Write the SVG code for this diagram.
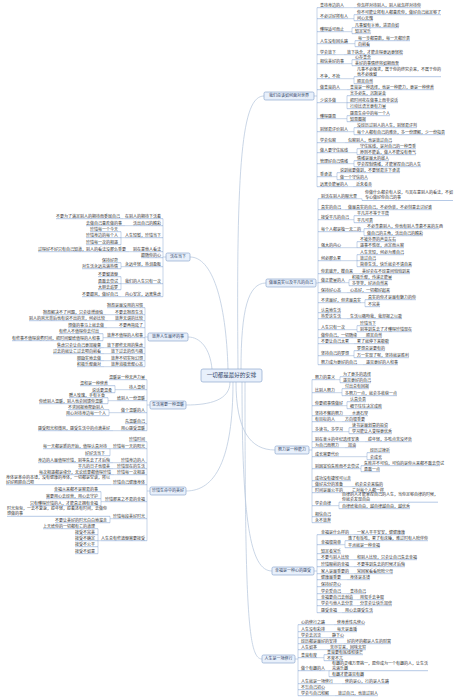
<svg xmlns="http://www.w3.org/2000/svg" width="474" height="697" viewBox="0 0 474 697">
<style>
.t{font-family:"Noto Sans CJK SC","Noto Sans",sans-serif;font-size:4px;fill:#333}
.e{text-anchor:end}
.u{stroke:#6b93cc;stroke-width:0.5;fill:none}
.c{stroke:#8fa9d0;stroke-width:0.5;fill:none}
.cc{stroke:#bccbe0;stroke-width:0.8;fill:none}
.m rect{fill:#e8f0fb;stroke:#7d9cc8;stroke-width:0.6}
.mt{font-family:"Noto Sans CJK SC","Noto Sans",sans-serif;font-size:4px;fill:#2f4366;text-anchor:middle}
.ct{font-family:"Noto Sans CJK SC","Noto Sans",sans-serif;font-size:5.5px;fill:#2f4366;text-anchor:middle}
</style>
<rect width="474" height="697" fill="#fff"/>
<g id="connectors">
<path class="cc" d="M238 369C236 160 242 96 264 96M241 369C241 310 248 283 266 283M236 382C236 430 250 450 275 450M242 382C242 520 250 571 272 571M245 382C245 610 248 659 262 659M228 369C226 300 212 257 190 257M212 369C210 348 200 337 188 337M230 382C230 400 210 405 186 405M233 382C233 460 215 491 186 491"/>
<path class="c" d="M314 96H317M317 7.7V186.7M344 7.7H354M348 18.7H354M354 14.7V20.7M344 31.7H352M352 27.7V33.7M348 43.7H355M355 40.7V46.7M336 54.7H344M344 63.7H352M352 59.7V65.7M340 78.7H354M354 76.7V83.7M340 89.7H347M336 102.7H347M347 95.7V108.7M336 118.7H347M347 115.7V121.7M348 131.7H354M354 127.7V134.7M336 142.7H345M348 152.7H357M357 148.7V154.7M348 163.7H354M354 160.7V166.7M332 176.7H337M337 172.7V179.7M348 186.7H353"/>
<path class="c" d="M316 283H318M318 198.7V364.7M357 198.7H362V200.5M341 209.7H345M349 219.7H354M354 215.7V222.7M361 231.7H364M364 228.7V235.7M341 247.7H357M357 241.7V247.7M341 260.7H357M357 254.7V266.7M353 273.7H359M345 282.7H349M349 279.7V285.7M341 292.7H347M361 302.7H365M365 299.7V306.7M341 318.7H347M345 329.7H357M357 325.7V331.7M357 337.7H363M349 343.7H354M349 355.7H354M354 350.7V357.7M357 364.7H363"/>
<path class="c" d="M309 450H312M312 379.7V522.7M335 379.7H340M340 376.7V382.7M335 392.7H342M342 388.7V395.7M343 405.7H347M347 401.7V408.7M343 415.7H349M335 421.7H342M343 431.7H349M349 427.7V433.7M359 441.7H365M339 447.7H345M339 456.7H367M367 452.7V459.7M359 468.7H361M361 465.7V471.7M343 486.7H352M343 492.7H349M331 505.7H339M339 502.2V508.7"/>
<path class="c" d="M314 571H317M317 534.7V612.7M349 534.7H354M341 544.7H345M345 540.7V547.7M349 559.7H354M349 566.7H354M349 573.7H354M341 579.7H347M341 593.7H347M353 599.7H357M353 605.7H357M337 612.7H342"/>
<path class="c" d="M295 659H298M298 624.7V695.7M325 624.7H334M325 631.7H334M321 637.7H329M337 643.7H344M317 649.7H327M317 657.7H324M324 654.7V660.7M325 670.7H329M329 670.7V676.7M333 683.7H342M329 695.7H335"/>
<path class="c" d="M166 257H163M163 218.7V296.7M125 218.7H123M133 225.7H125M125 237.7H121M121 231.7V244.7M133 251.7H129M125 266.7H121M121 262.7V268.7M125 283.7H121M121 276.7V289.7M125 296.7H121"/>
<path class="c" d="M148 337H145M145 307.7V366.7M115 314.7H106M115 320.7H108M119 327.7H107M107 337.7H103M103 333.7V340.7M107 347.7H104M111 353.7H104M111 360.7H104M111 366.7H104"/>
<path class="c" d="M150 405H147M147 379.7V430.7M129 389.7H115M115 385.7V392.7M117 400.7H108M108 397.7V403.7M121 412.7H109M109 409.7V415.7M121 430.7H113"/>
<path class="c" d="M150 491H147M147 441.7V540.7M113 448.7H110M110 448.7V455.7M121 462.7H113M117 468.7H113M117 474.7H114M113 484.7H111M105 501.7H101M101 491.7V505.7M113 518.7H110M110 516.3V522.7M101 540.7H98M98 528.7V553.7"/>
</g>
<g id="center" class="m"><rect x="201" y="369" width="61" height="13" rx="2"/><text class="ct" x="231.5" y="377.4">一切都是最好的安排</text></g>
<g id="n-r1" class="m"><rect x="264" y="92" width="50" height="8" rx="1.5"/><text class="mt" x="289" y="97.4">我们应该如何面对世界</text></g>
<g id="n-r2" class="m"><rect x="266" y="279" width="50" height="8" rx="1.5"/><text class="mt" x="291" y="284.4">做最真实以及平凡的自己</text></g>
<g id="n-r3" class="m"><rect x="275" y="446" width="34" height="8" rx="1.5"/><text class="mt" x="292" y="451.4">努力是一种能力</text></g>
<g id="n-r4" class="m"><rect x="272" y="567" width="42" height="8" rx="1.5"/><text class="mt" x="293" y="572.4">幸福是一种心的感受</text></g>
<g id="n-r5" class="m"><rect x="262" y="655" width="33" height="8" rx="1.5"/><text class="mt" x="278.5" y="660.4">人生是一场修行</text></g>
<g id="n-l1" class="m"><rect x="166" y="253" width="24" height="8" rx="1.5"/><text class="mt" x="178" y="258.4">活在当下</text></g>
<g id="n-l2" class="m"><rect x="148" y="333" width="40" height="8" rx="1.5"/><text class="mt" x="168" y="338.4">放弃人生最坏的事</text></g>
<g id="n-l3" class="m"><rect x="150" y="401" width="36" height="8" rx="1.5"/><text class="mt" x="168" y="406.4">生活需要一种温暖</text></g>
<g id="n-l4" class="m"><rect x="150" y="487" width="36" height="8" rx="1.5"/><text class="mt" x="168" y="492.4">珍惜生命中的美好</text></g>

<g id="r1-1"><text class="t" x="320" y="6.5">善待身边的人</text><path class="u" d="M317 7.7H344"/></g>
<g id="r1-1a"><text class="t" x="357" y="6.5">你怎样对待别人，别人就怎样对待你</text><path class="u" d="M354 7.7H421"/></g>
<g id="r1-2"><text class="t" x="320" y="17.5">不必讨好所有人</text><path class="u" d="M317 18.7H348"/></g>
<g id="r1-2a"><text class="t" x="357" y="13.5">你不可能让所有人都喜欢你，做好自己就足够了</text><path class="u" d="M354 14.7H441"/></g>
<g id="r1-2b"><text class="t" x="357" y="19.5">问心无愧</text><path class="u" d="M354 20.7H373"/></g>
<g id="r1-3"><text class="t" x="320" y="30.5">懂得适可而止</text><path class="u" d="M317 31.7H344"/></g>
<g id="r1-3a"><text class="t" x="355" y="26.5">凡事留有余地，进退自如</text><path class="u" d="M352 27.7H399"/></g>
<g id="r1-3b"><text class="t" x="355" y="32.5">知足常乐</text><path class="u" d="M352 33.7H371"/></g>
<g id="r1-4"><text class="t" x="320" y="42.5">人生没有回头路</text><path class="u" d="M317 43.7H348"/></g>
<g id="r1-4a"><text class="t" x="358" y="39.5">每一步都算数，每一天都珍贵</text><path class="u" d="M355 40.7H410"/></g>
<g id="r1-4b"><text class="t" x="358" y="45.5">向前看</text><path class="u" d="M355 46.7H370"/></g>
<g id="r1-5"><text class="t" x="320" y="53.5">学会放下</text><path class="u" d="M317 54.7H336"/></g>
<g id="r1-5a"><text class="t" x="347" y="53.5">放下执念，才能走得更远更轻松</text><path class="u" d="M344 54.7H403"/></g>
<g id="r1-6"><text class="t" x="320" y="62.5">相信美好的事</text><path class="u" d="M317 63.7H344"/></g>
<g id="r1-6a"><text class="t" x="355" y="58.5">心存善念</text><path class="u" d="M352 59.7H371"/></g>
<g id="r1-6b"><text class="t" x="355" y="64.5">美好的事情终将如期而至</text><path class="u" d="M352 65.7H399"/></g>
<g id="r1-7"><text class="t" x="320" y="77.5">不争，不抢</text><path class="u" d="M317 78.7H340"/></g>
<g id="r1-7a"><text class="t" x="357" y="70.8">凡事不必强求，属于你的终究会来，不属于你的<tspan x="357" y="75.6">也不必挽留</tspan></text><path class="u" d="M354 76.7H441"/></g>
<g id="r1-7b"><text class="t" x="357" y="82.5">顺其自然</text><path class="u" d="M354 83.7H373"/></g>
<g id="r1-8"><text class="t" x="320" y="88.5">做善良的人</text><path class="u" d="M317 89.7H340"/></g>
<g id="r1-8a"><text class="t" x="350" y="88.5">善良是一种选择，也是一种能力，更是一种修养</text><path class="u" d="M347 89.7H434"/></g>
<g id="r1-9"><text class="t" x="320" y="101.5">少说多做</text><path class="u" d="M317 102.7H336"/></g>
<g id="r1-9a"><text class="t" x="350" y="94.5">言多必失，沉默是金</text><path class="u" d="M347 95.7H386"/></g>
<g id="r1-9b"><text class="t" x="350" y="101.5">把时间花在做事上而非说话</text><path class="u" d="M347 102.7H398"/></g>
<g id="r1-9c"><text class="t" x="350" y="107.5">行动比语言更有力量</text><path class="u" d="M347 108.7H386"/></g>
<g id="r1-10"><text class="t" x="320" y="117.5">懂得感恩</text><path class="u" d="M317 118.7H336"/></g>
<g id="r1-10a"><text class="t" x="350" y="114.5">感恩生命中的每一个人</text><path class="u" d="M347 115.7H390"/></g>
<g id="r1-10b"><text class="t" x="350" y="120.5">知恩图报</text><path class="u" d="M347 121.7H366"/></g>
<g id="r1-11"><text class="t" x="320" y="130.5">别轻易评价别人</text><path class="u" d="M317 131.7H348"/></g>
<g id="r1-11a"><text class="t" x="357" y="126.5">没经历过别人的人生，别轻易评判</text><path class="u" d="M354 127.7H417"/></g>
<g id="r1-11b"><text class="t" x="357" y="133.5">每个人都有自己的难处，多一份理解，少一份指责</text><path class="u" d="M354 134.7H445"/></g>
<g id="r1-12"><text class="t" x="320" y="141.5">学会包容</text><path class="u" d="M317 142.7H336"/></g>
<g id="r1-12a"><text class="t" x="348" y="141.5">包容别人，也是放过自己</text><path class="u" d="M345 142.7H392"/></g>
<g id="r1-13"><text class="t" x="320" y="151.5">做人要守住底线</text><path class="u" d="M317 152.7H348"/></g>
<g id="r1-13a"><text class="t" x="360" y="147.5">守住底线，是对自己的一种尊重</text><path class="u" d="M357 148.7H416"/></g>
<g id="r1-13b"><text class="t" x="360" y="153.5">原则不能丢，做人不能没有骨气</text><path class="u" d="M357 154.7H416"/></g>
<g id="r1-14"><text class="t" x="320" y="162.5">管理好自己情绪</text><path class="u" d="M317 163.7H348"/></g>
<g id="r1-14a"><text class="t" x="357" y="159.5">情绪是最大的敌人</text><path class="u" d="M354 160.7H389"/></g>
<g id="r1-14b"><text class="t" x="357" y="165.5">学会控制情绪，才能掌控自己的人生</text><path class="u" d="M354 166.7H421"/></g>
<g id="r1-15"><text class="t" x="320" y="175.5">重承诺</text><path class="u" d="M317 176.7H332"/></g>
<g id="r1-15a"><text class="t" x="340" y="171.5">说到就要做到，不要轻易许下承诺</text><path class="u" d="M337 172.7H400"/></g>
<g id="r1-15b"><text class="t" x="340" y="178.5">做一个守信的人</text><path class="u" d="M337 179.7H368"/></g>
<g id="r1-16"><text class="t" x="320" y="185.5">远离负能量的人</text><path class="u" d="M317 186.7H348"/></g>
<g id="r1-16a"><text class="t" x="356" y="185.5">近朱者赤</text><path class="u" d="M353 186.7H372"/></g>

<g id="r2-1"><text class="t" x="321" y="197.5">别活在别人的眼光里</text><path class="u" d="M318 198.7H357"/></g>
<g id="r2-1a"><text class="t" x="365" y="194.2">你做什么都会有人说，与其在意别人的看法，不如<tspan x="365" y="199.0">专心做好你自己的事</tspan></text><path class="u" d="M362 200.5H453"/></g>
<g id="r2-2"><text class="t" x="321" y="208.5">真实的自己</text><path class="u" d="M318 209.7H341"/></g>
<g id="r2-2a"><text class="t" x="348" y="208.5">做最真实的自己，不必伪装，不必刻意去讨好谁</text><path class="u" d="M345 209.7H432"/></g>
<g id="r2-3"><text class="t" x="321" y="218.5">接受平凡的自己</text><path class="u" d="M318 219.7H349"/></g>
<g id="r2-3a"><text class="t" x="357" y="214.5">平凡并不等于平庸</text><path class="u" d="M354 215.7H389"/></g>
<g id="r2-3b"><text class="t" x="357" y="221.5">平凡可贵</text><path class="u" d="M354 222.7H373"/></g>
<g id="r2-4"><text class="t" x="321" y="230.5">每个人都是独一无二的</text><path class="u" d="M318 231.7H361"/></g>
<g id="r2-4a"><text class="t" x="367" y="227.5">不必羡慕别人，你也有别人羡慕不来的东西</text><path class="u" d="M364 228.7H439"/></g>
<g id="r2-4b"><text class="t" x="367" y="234.5">做自己的主角，活出自己的精彩</text><path class="u" d="M364 235.7H423"/></g>
<g id="r2-5"><text class="t" x="321" y="246.5">强大的内心</text><path class="u" d="M318 247.7H341"/></g>
<g id="r2-5a"><text class="t" x="360" y="240.5">不被外界的声音左右</text><path class="u" d="M357 241.7H396"/></g>
<g id="r2-5b"><text class="t" x="360" y="246.5">遇事不慌张，淡定而从容</text><path class="u" d="M357 247.7H404"/></g>
<g id="r2-6"><text class="t" x="321" y="259.5">何必那么累</text><path class="u" d="M318 260.7H341"/></g>
<g id="r2-6a"><text class="t" x="360" y="253.5">人生苦短，何必为难自己</text><path class="u" d="M357 254.7H404"/></g>
<g id="r2-6b"><text class="t" x="360" y="259.5">放过自己</text><path class="u" d="M357 260.7H376"/></g>
<g id="r2-6c"><text class="t" x="360" y="265.5">简单生活，快乐就会不请自来</text><path class="u" d="M357 266.7H412"/></g>
<g id="r2-7"><text class="t" x="321" y="272.5">你若盛开，蝶自来</text><path class="u" d="M318 273.7H353"/></g>
<g id="r2-7a"><text class="t" x="362" y="272.5">美好会在不经意间悄悄到来</text><path class="u" d="M359 273.7H410"/></g>
<g id="r2-8"><text class="t" x="321" y="281.5">做正能量的人</text><path class="u" d="M318 282.7H345"/></g>
<g id="r2-8a"><text class="t" x="352" y="278.5">积极乐观，传递正能量</text><path class="u" d="M349 279.7H392"/></g>
<g id="r2-8b"><text class="t" x="352" y="284.5">多笑笑，好运自然来</text><path class="u" d="M349 285.7H388"/></g>
<g id="r2-9"><text class="t" x="321" y="291.5">保持好心态</text><path class="u" d="M318 292.7H341"/></g>
<g id="r2-9a"><text class="t" x="350" y="291.5">心态好，一切都好起来</text><path class="u" d="M347 292.7H390"/></g>
<g id="r2-10"><text class="t" x="321" y="301.5">不求最好，但求最真实</text><path class="u" d="M318 302.7H361"/></g>
<g id="r2-10a"><text class="t" x="368" y="298.5">真实的你才是最有魅力的你</text><path class="u" d="M365 299.7H416"/></g>
<g id="r2-10b"><text class="t" x="368" y="305.5">不完美</text><path class="u" d="M365 306.7H380"/></g>
<g id="r2-11"><text class="t" x="321" y="311.5">认真地生活</text><path class="u" d="M318 312.7H341"/></g>
<g id="r2-12"><text class="t" x="321" y="317.5">热爱这生活</text><path class="u" d="M318 318.7H341"/></g>
<g id="r2-12a"><text class="t" x="350" y="317.5">生活以痛吻我，我却报之以歌</text><path class="u" d="M347 318.7H402"/></g>
<g id="r2-13"><text class="t" x="321" y="328.5">人生只有一次</text><path class="u" d="M318 329.7H345"/></g>
<g id="r2-13a"><text class="t" x="360" y="324.5">珍惜当下</text><path class="u" d="M357 325.7H376"/></g>
<g id="r2-13b"><text class="t" x="360" y="330.5">别等到失去了才懂得珍惜现在</text><path class="u" d="M357 331.7H412"/></g>
<g id="r2-14"><text class="t" x="321" y="336.5">做你自己，一切随缘</text><path class="u" d="M318 337.7H357"/></g>
<g id="r2-14a"><text class="t" x="366" y="336.5">顺其自然</text><path class="u" d="M363 337.7H382"/></g>
<g id="r2-15"><text class="t" x="321" y="342.5">不要让自己太累</text><path class="u" d="M318 343.7H349"/></g>
<g id="r2-15a"><text class="t" x="357" y="342.5">累了就停下来歇歇</text><path class="u" d="M354 343.7H389"/></g>
<g id="r2-16"><text class="t" x="321" y="354.5">坚持自己的梦想</text><path class="u" d="M318 355.7H349"/></g>
<g id="r2-16a"><text class="t" x="357" y="349.5">梦想总是要有的</text><path class="u" d="M354 350.7H385"/></g>
<g id="r2-16b"><text class="t" x="357" y="356.5">万一实现了呢，坚持就是胜利</text><path class="u" d="M354 357.7H409"/></g>
<g id="r2-17"><text class="t" x="321" y="363.5">努力成为更好的自己</text><path class="u" d="M318 364.7H357"/></g>
<g id="r2-17a"><text class="t" x="366" y="363.5">遇见更好的人和事</text><path class="u" d="M363 364.7H398"/></g>

<g id="r3-1"><text class="t" x="315" y="378.5">努力的意义</text><path class="u" d="M312 379.7H335"/></g>
<g id="r3-1a"><text class="t" x="343" y="375.5">为了更多的选择</text><path class="u" d="M340 376.7H371"/></g>
<g id="r3-1b"><text class="t" x="343" y="381.5">遇见更好的自己</text><path class="u" d="M340 382.7H371"/></g>
<g id="r3-2"><text class="t" x="315" y="391.5">比别人努力</text><path class="u" d="M312 392.7H335"/></g>
<g id="r3-2a"><text class="t" x="345" y="387.5">付出总有回报</text><path class="u" d="M342 388.7H369"/></g>
<g id="r3-2b"><text class="t" x="345" y="394.5">多努力一点，就会多收获一点</text><path class="u" d="M342 395.7H397"/></g>
<g id="r3-3"><text class="t" x="315" y="404.5">你要把事情做好</text><path class="u" d="M312 405.7H343"/></g>
<g id="r3-3a"><text class="t" x="350" y="400.5">认真负责</text><path class="u" d="M347 401.7H366"/></g>
<g id="r3-3b"><text class="t" x="350" y="407.5">细节往往决定成败</text><path class="u" d="M347 408.7H382"/></g>
<g id="r3-4"><text class="t" x="315" y="414.5">坚持不懈的努力</text><path class="u" d="M312 415.7H343"/></g>
<g id="r3-4a"><text class="t" x="352" y="414.5">水滴石穿</text><path class="u" d="M349 415.7H368"/></g>
<g id="r3-5"><text class="t" x="315" y="420.5">有目标的人</text><path class="u" d="M312 421.7H335"/></g>
<g id="r3-5a"><text class="t" x="345" y="420.5">方向很重要</text><path class="u" d="M342 421.7H365"/></g>
<g id="r3-6"><text class="t" x="315" y="430.5">多读书，多学习</text><path class="u" d="M312 431.7H343"/></g>
<g id="r3-6a"><text class="t" x="352" y="426.5">读书是最划算的投资</text><path class="u" d="M349 427.7H388"/></g>
<g id="r3-6b"><text class="t" x="352" y="432.5">学习能让人变得更优秀</text><path class="u" d="M349 433.7H392"/></g>
<g id="r3-7"><text class="t" x="315" y="440.5">别在奋斗的年纪选择安逸</text><path class="u" d="M312 441.7H359"/></g>
<g id="r3-7a"><text class="t" x="368" y="440.5">趁年轻，多吃点苦没坏处</text><path class="u" d="M365 441.7H412"/></g>
<g id="r3-8"><text class="t" x="315" y="446.5">为自己而努力</text><path class="u" d="M312 447.7H339"/></g>
<g id="r3-8a"><text class="t" x="348" y="446.5">加油</text><path class="u" d="M345 447.7H356"/></g>
<g id="r3-9"><text class="t" x="315" y="455.5">成长需要代价</text><path class="u" d="M312 456.7H339"/></g>
<g id="r3-9a"><text class="t" x="370" y="451.5">经历过挫折</text><path class="u" d="M367 452.7H390"/></g>
<g id="r3-9b"><text class="t" x="370" y="458.5">会成长</text><path class="u" d="M367 459.7H382"/></g>
<g id="r3-10"><text class="t" x="315" y="467.5">别因害怕失败而不去尝试</text><path class="u" d="M312 468.7H359"/></g>
<g id="r3-10a"><text class="t" x="364" y="464.5">失败并不可怕，可怕的是你从来都不敢去尝试</text><path class="u" d="M361 465.7H440"/></g>
<g id="r3-10b"><text class="t" x="364" y="470.5">勇敢一点</text><path class="u" d="M361 471.7H380"/></g>
<g id="r3-11"><text class="t" x="315" y="479.5">成功没有捷径可以走</text><path class="u" d="M312 480.7H351"/></g>
<g id="r3-12"><text class="t" x="315" y="485.5">做好充分的准备</text><path class="u" d="M312 486.7H343"/></g>
<g id="r3-12a"><text class="t" x="355" y="485.5">机会总会来临的</text><path class="u" d="M352 486.7H383"/></g>
<g id="r3-13"><text class="t" x="315" y="491.5">时间是最公平的</text><path class="u" d="M312 492.7H343"/></g>
<g id="r3-13a"><text class="t" x="352" y="491.5">它对每个人都一样</text><path class="u" d="M349 492.7H384"/></g>
<g id="r3-14"><text class="t" x="315" y="504.5">学会自律</text><path class="u" d="M312 505.7H331"/></g>
<g id="r3-14a"><text class="t" x="342" y="496.2">自律的人才能掌控自己的人生，当你足够自律的时候，<tspan x="342" y="501.0">你就会发现自由</tspan></text><path class="u" d="M339 502.2H438"/></g>
<g id="r3-14b"><text class="t" x="342" y="507.5">自律给我自由，越自律越自由，越优秀</text><path class="u" d="M339 508.7H410"/></g>
<g id="r3-15"><text class="t" x="315" y="515.5">相信自己</text><path class="u" d="M312 516.7H331"/></g>
<g id="r3-16"><text class="t" x="315" y="521.5">永不放弃</text><path class="u" d="M312 522.7H331"/></g>

<g id="r4-1"><text class="t" x="321" y="533.5">幸福是什么样的</text><path class="u" d="M317 534.7H349"/></g>
<g id="r4-1a"><text class="t" x="357" y="533.5">一家人平平安安，健健康康</text><path class="u" d="M354 534.7H405"/></g>
<g id="r4-2"><text class="t" x="321" y="543.5">幸福很简单</text><path class="u" d="M317 544.7H341"/></g>
<g id="r4-2a"><text class="t" x="348" y="539.5">饿了有饭吃，累了有床睡，难过时有人陪伴你</text><path class="u" d="M345 540.7H428"/></g>
<g id="r4-2b"><text class="t" x="348" y="546.5">平淡就是一种幸福</text><path class="u" d="M345 547.7H380"/></g>
<g id="r4-3"><text class="t" x="321" y="552.5">知足者常乐</text><path class="u" d="M317 553.7H341"/></g>
<g id="r4-4"><text class="t" x="321" y="558.5">不要与别人比较</text><path class="u" d="M317 559.7H349"/></g>
<g id="r4-4a"><text class="t" x="357" y="558.5">和别人比较，只会让自己失去幸福</text><path class="u" d="M354 559.7H417"/></g>
<g id="r4-5"><text class="t" x="321" y="565.5">珍惜眼前的幸福</text><path class="u" d="M317 566.7H349"/></g>
<g id="r4-5a"><text class="t" x="357" y="565.5">不要等到失去的时候才后悔</text><path class="u" d="M354 566.7H405"/></g>
<g id="r4-6"><text class="t" x="321" y="572.5">家人是最重要的</text><path class="u" d="M317 573.7H349"/></g>
<g id="r4-6a"><text class="t" x="357" y="572.5">常回家看看陪陪父母</text><path class="u" d="M354 573.7H393"/></g>
<g id="r4-7"><text class="t" x="321" y="578.5">健康最重要</text><path class="u" d="M317 579.7H341"/></g>
<g id="r4-7a"><text class="t" x="350" y="578.5">身体是本钱</text><path class="u" d="M347 579.7H370"/></g>
<g id="r4-8"><text class="t" x="321" y="585.5">保持好奇心</text><path class="u" d="M317 586.7H341"/></g>
<g id="r4-9"><text class="t" x="321" y="592.5">学会爱自己</text><path class="u" d="M317 593.7H341"/></g>
<g id="r4-9a"><text class="t" x="350" y="592.5">善待自己</text><path class="u" d="M347 593.7H366"/></g>
<g id="r4-10"><text class="t" x="321" y="598.5">幸福要自己去创造</text><path class="u" d="M317 599.7H353"/></g>
<g id="r4-10a"><text class="t" x="360" y="598.5">用双手去争取</text><path class="u" d="M357 599.7H384"/></g>
<g id="r4-11"><text class="t" x="321" y="604.5">学会与他人去分享</text><path class="u" d="M317 605.7H353"/></g>
<g id="r4-11a"><text class="t" x="360" y="604.5">分享会让快乐加倍</text><path class="u" d="M357 605.7H392"/></g>
<g id="r4-12"><text class="t" x="321" y="611.5">感受幸福</text><path class="u" d="M317 612.7H337"/></g>
<g id="r4-12a"><text class="t" x="345" y="611.5">用心去感受生活</text><path class="u" d="M342 612.7H373"/></g>

<g id="r5-1"><text class="t" x="301" y="623.5">心的修行之路</text><path class="u" d="M298 624.7H325"/></g>
<g id="r5-1a"><text class="t" x="337" y="623.5">修身养性先修心</text><path class="u" d="M334 624.7H365"/></g>
<g id="r5-2"><text class="t" x="301" y="630.5">人生没有彩排</text><path class="u" d="M298 631.7H325"/></g>
<g id="r5-2a"><text class="t" x="337" y="630.5">每天是直播</text><path class="u" d="M334 631.7H357"/></g>
<g id="r5-3"><text class="t" x="301" y="636.5">学会去沉淀</text><path class="u" d="M298 637.7H321"/></g>
<g id="r5-3a"><text class="t" x="332" y="636.5">静下心</text><path class="u" d="M329 637.7H344"/></g>
<g id="r5-4"><text class="t" x="301" y="642.5">经历都是最好的安排</text><path class="u" d="M298 643.7H337"/></g>
<g id="r5-4a"><text class="t" x="347" y="642.5">好的坏的都是人生的财富</text><path class="u" d="M344 643.7H391"/></g>
<g id="r5-5"><text class="t" x="301" y="648.5">人生如茶</text><path class="u" d="M298 649.7H317"/></g>
<g id="r5-5a"><text class="t" x="330" y="648.5">苦尽甘来，回味无穷</text><path class="u" d="M327 649.7H366"/></g>
<g id="r5-6"><text class="t" x="301" y="656.5">善良有度</text><path class="u" d="M298 657.7H317"/></g>
<g id="r5-6a"><text class="t" x="327" y="653.5">善良要有底线和锋芒</text><path class="u" d="M324 654.7H363"/></g>
<g id="r5-6b"><text class="t" x="327" y="659.5">不卑不亢</text><path class="u" d="M324 660.7H343"/></g>
<g id="r5-7"><text class="t" x="301" y="669.5">做个有趣的人</text><path class="u" d="M298 670.7H325"/></g>
<g id="r5-7a"><text class="t" x="332" y="664.8">有趣的灵魂万里挑一，愿你成为一个有趣的人，让生活<tspan x="332" y="669.6">充满乐趣</tspan></text><path class="u" d="M329 670.7H428"/></g>
<g id="r5-7b"><text class="t" x="332" y="675.5">有趣才能遇见有趣</text><path class="u" d="M329 676.7H364"/></g>
<g id="r5-8"><text class="t" x="301" y="682.5">人生就是一场修行</text><path class="u" d="M298 683.7H333"/></g>
<g id="r5-8a"><text class="t" x="345" y="682.5">修的是心，行的是人生路</text><path class="u" d="M342 683.7H389"/></g>
<g id="r5-9"><text class="t" x="301" y="688.5">不忘自己初心</text><path class="u" d="M298 689.7H325"/></g>
<g id="r5-10"><text class="t" x="301" y="694.5">学会与自己和解</text><path class="u" d="M298 695.7H329"/></g>
<g id="r5-10a"><text class="t" x="338" y="694.5">放过自己，也放过别人</text><path class="u" d="M335 695.7H378"/></g>

<g id="l1-1"><text class="t e" x="161" y="217.5">在别人的期待下活着</text><path class="u" d="M125 218.7H163"/></g>
<g id="l1-1a"><text class="t e" x="120" y="217.5">不要为了满足别人的期待而委屈自己</text><path class="u" d="M56 218.7H123"/></g>
<g id="l1-2"><text class="t e" x="161" y="224.5">活出自己的精彩</text><path class="u" d="M133 225.7H163"/></g>
<g id="l1-2a"><text class="t e" x="122" y="224.5">去做自己喜欢做的事</text><path class="u" d="M86 225.7H125"/></g>
<g id="l1-3"><text class="t e" x="161" y="236.5">人生短暂，珍惜当下</text><path class="u" d="M125 237.7H163"/></g>
<g id="l1-3a"><text class="t e" x="118" y="230.5">珍惜每一个今天</text><path class="u" d="M90 231.7H121"/></g>
<g id="l1-3b"><text class="t e" x="118" y="236.5">珍惜身边的每个人</text><path class="u" d="M86 237.7H121"/></g>
<g id="l1-3c"><text class="t e" x="118" y="243.5">珍惜每一次的相遇</text><path class="u" d="M86 244.7H121"/></g>
<g id="l1-4"><text class="t e" x="161" y="250.5">别在意他人看法</text><path class="u" d="M133 251.7H163"/></g>
<g id="l1-4a"><text class="t e" x="126" y="250.5">过得好不好只有自己知道，别人的看法没那么重要</text><path class="u" d="M38 251.7H129"/></g>
<g id="l1-5"><text class="t e" x="161" y="256.5">跟随你的心</text><path class="u" d="M141 257.7H163"/></g>
<g id="l1-6"><text class="t e" x="161" y="265.5">永远年轻，热泪盈眶</text><path class="u" d="M125 266.7H163"/></g>
<g id="l1-6a"><text class="t e" x="118" y="261.5">保持好奇</text><path class="u" d="M102 262.7H121"/></g>
<g id="l1-6b"><text class="t e" x="118" y="267.5">对生活永远充满热情</text><path class="u" d="M82 268.7H121"/></g>
<g id="l1-7"><text class="t e" x="161" y="282.5">我们的人生只有一次</text><path class="u" d="M125 283.7H163"/></g>
<g id="l1-7a"><text class="t e" x="118" y="275.5">不要留遗憾</text><path class="u" d="M98 276.7H121"/></g>
<g id="l1-7b"><text class="t e" x="118" y="282.5">勇敢去尝试</text><path class="u" d="M98 283.7H121"/></g>
<g id="l1-7c"><text class="t e" x="118" y="288.5">大胆去追梦</text><path class="u" d="M98 289.7H121"/></g>
<g id="l1-8"><text class="t e" x="161" y="295.5">内心安定，远离焦虑</text><path class="u" d="M125 296.7H163"/></g>
<g id="l1-8a"><text class="t e" x="118" y="295.5">不要跟风，做好自己</text><path class="u" d="M82 296.7H121"/></g>

<g id="l2-1"><text class="t e" x="143" y="306.5">抱怨是最没用的习惯</text><path class="u" d="M107 307.7H145"/></g>
<g id="l2-2"><text class="t e" x="143" y="313.5">不要去抱怨生活</text><path class="u" d="M115 314.7H145"/></g>
<g id="l2-2a"><text class="t e" x="103" y="313.5">抱怨解决不了问题，只会徒增烦恼</text><path class="u" d="M43 314.7H106"/></g>
<g id="l2-3"><text class="t e" x="143" y="319.5">放弃无谓的比较</text><path class="u" d="M115 320.7H145"/></g>
<g id="l2-3a"><text class="t e" x="105" y="319.5">别人的风光背后也有说不出的苦，何必比较</text><path class="u" d="M29 320.7H108"/></g>
<g id="l2-4"><text class="t e" x="143" y="326.5">不要再拖延了</text><path class="u" d="M119 327.7H145"/></g>
<g id="l2-4a"><text class="t e" x="104" y="326.5">想做的事马上就去做</text><path class="u" d="M68 327.7H107"/></g>
<g id="l2-5"><text class="t e" x="143" y="336.5">放弃不值得的人和事</text><path class="u" d="M107 337.7H145"/></g>
<g id="l2-5a"><text class="t e" x="99" y="332.5">有些人不值得你去付出</text><path class="u" d="M59 333.7H103"/></g>
<g id="l2-5b"><text class="t e" x="100" y="339.5">有些事不值得浪费时间，把时间留给值得的人和事</text><path class="u" d="M12 340.7H103"/></g>
<g id="l2-6"><text class="t e" x="143" y="346.5">放下那些无用的焦虑</text><path class="u" d="M107 347.7H145"/></g>
<g id="l2-6a"><text class="t e" x="101" y="346.5">焦虑只会让自己更加疲惫</text><path class="u" d="M57 347.7H104"/></g>
<g id="l2-7"><text class="t e" x="143" y="352.5">放下过去的伤与痛</text><path class="u" d="M111 353.7H145"/></g>
<g id="l2-7a"><text class="t e" x="101" y="352.5">过去的就让它过去吧向前看</text><path class="u" d="M53 353.7H104"/></g>
<g id="l2-8"><text class="t e" x="143" y="359.5">放弃不切实际幻想</text><path class="u" d="M111 360.7H145"/></g>
<g id="l2-8a"><text class="t e" x="101" y="359.5">脚踏实地去做</text><path class="u" d="M77 360.7H104"/></g>
<g id="l2-9"><text class="t e" x="143" y="365.5">放弃消极悲观心态</text><path class="u" d="M111 366.7H145"/></g>
<g id="l2-9a"><text class="t e" x="101" y="365.5">积极乐观面对</text><path class="u" d="M77 366.7H104"/></g>

<g id="l3-1"><text class="t e" x="145" y="378.5">温暖是一种无声力量</text><path class="u" d="M109 379.7H147"/></g>
<g id="l3-2"><text class="t e" x="145" y="388.5">待人温和</text><path class="u" d="M129 389.7H147"/></g>
<g id="l3-2a"><text class="t e" x="108" y="384.5">温和是一种修养</text><path class="u" d="M80 385.7H115"/></g>
<g id="l3-2b"><text class="t e" x="112" y="391.5">说话要温柔</text><path class="u" d="M92 392.7H115"/></g>
<g id="l3-3"><text class="t e" x="145" y="399.5">给别人一份温暖</text><path class="u" d="M117 400.7H147"/></g>
<g id="l3-3a"><text class="t e" x="105" y="396.5">赠人玫瑰，手有余香</text><path class="u" d="M69 397.7H108"/></g>
<g id="l3-3b"><text class="t e" x="103" y="402.5">你给别人温暖，别人也会回馈你温暖</text><path class="u" d="M39 403.7H108"/></g>
<g id="l3-4"><text class="t e" x="145" y="411.5">做个温暖的人</text><path class="u" d="M121 412.7H147"/></g>
<g id="l3-4a"><text class="t e" x="104" y="408.5">不求回报地帮助别人</text><path class="u" d="M68 409.7H109"/></g>
<g id="l3-4b"><text class="t e" x="106" y="414.5">用心对待身边每一个人</text><path class="u" d="M66 415.7H109"/></g>
<g id="l3-5"><text class="t e" x="145" y="422.5">先温暖自己</text><path class="u" d="M125 423.7H147"/></g>
<g id="l3-6"><text class="t e" x="145" y="429.5">用心感受温暖</text><path class="u" d="M121 430.7H147"/></g>
<g id="l3-6a"><text class="t e" x="110" y="429.5">感受阳光和微风，感受生活中的点滴美好</text><path class="u" d="M38 430.7H113"/></g>

<g id="l4-1"><text class="t e" x="145" y="440.5">珍惜时间</text><path class="u" d="M129 441.7H147"/></g>
<g id="l4-2"><text class="t e" x="145" y="447.5">珍惜每一天的阳光</text><path class="u" d="M113 448.7H147"/></g>
<g id="l4-2a"><text class="t e" x="107" y="447.5">每一天都是新的开始，值得认真对待</text><path class="u" d="M43 448.7H110"/></g>
<g id="l4-2b"><text class="t e" x="105" y="454.5">好好活当下</text><path class="u" d="M85 455.7H110"/></g>
<g id="l4-3"><text class="t e" x="145" y="461.5">珍惜身边的人</text><path class="u" d="M121 462.7H147"/></g>
<g id="l4-3a"><text class="t e" x="110" y="461.5">身边的人最值得珍惜，别等失去了才后悔</text><path class="u" d="M38 462.7H113"/></g>
<g id="l4-4"><text class="t e" x="145" y="467.5">珍惜现在的生活</text><path class="u" d="M117 468.7H147"/></g>
<g id="l4-4a"><text class="t e" x="110" y="467.5">平凡的日子也很美</text><path class="u" d="M78 468.7H113"/></g>
<g id="l4-5"><text class="t e" x="145" y="473.5">珍惜每一次相遇</text><path class="u" d="M117 474.7H147"/></g>
<g id="l4-5a"><text class="t e" x="111" y="473.5">每次相遇都是缘分，无论结果都值得珍惜</text><path class="u" d="M39 474.7H114"/></g>
<g id="l4-6"><text class="t e" x="145" y="483.5">珍惜自己健康身体</text><path class="u" d="M113 484.7H147"/></g>
<g id="l4-6a"><text class="t" x="6" y="478.8">身体是革命的本钱，没有健康的身体，一切都是空谈，所以<tspan x="6" y="483.6">好好照顾自己吧</tspan></text><path class="u" d="M6 484.7H111"/></g>
<g id="l4-7"><text class="t e" x="145" y="500.5">珍惜那来之不易的幸福</text><path class="u" d="M105 501.7H147"/></g>
<g id="l4-7a"><text class="t e" x="98" y="490.5">幸福从来都不是容易的事</text><path class="u" d="M54 491.7H101"/></g>
<g id="l4-7b"><text class="t e" x="98" y="497.5">需要用心去经营，用心去守护</text><path class="u" d="M46 498.7H101"/></g>
<g id="l4-7c"><text class="t e" x="98" y="504.5">只有懂得珍惜的人，才能真正拥有幸福</text><path class="u" d="M30 505.7H101"/></g>
<g id="l4-8"><text class="t e" x="145" y="517.5">珍惜每段美好时光</text><path class="u" d="M113 518.7H147"/></g>
<g id="l4-8a"><text class="t" x="7" y="510.4">时光匆匆，一去不复返，趁年轻，趁着还有时间，去做你<tspan x="7" y="515.2">想做的事</tspan></text><path class="u" d="M7 516.3H110"/></g>
<g id="l4-8b"><text class="t e" x="107" y="521.5">不要让美好的时光白白地溜走</text><path class="u" d="M55 522.7H110"/></g>
<g id="l4-9"><text class="t e" x="145" y="539.5">人生总有些遗憾需要接受</text><path class="u" d="M101 540.7H147"/></g>
<g id="l4-9a"><text class="t e" x="95" y="527.5">上天给你的一切都有它的道理</text><path class="u" d="M43 528.7H98"/></g>
<g id="l4-9b"><text class="t e" x="95" y="533.5">接受不完美</text><path class="u" d="M75 534.7H98"/></g>
<g id="l4-9c"><text class="t e" x="95" y="539.5">接受不确定</text><path class="u" d="M75 540.7H98"/></g>
<g id="l4-9d"><text class="t e" x="95" y="545.5">接受不公平</text><path class="u" d="M75 546.7H98"/></g>
<g id="l4-9e"><text class="t e" x="95" y="552.5">接受不如意</text><path class="u" d="M75 553.7H98"/></g>
</svg>
